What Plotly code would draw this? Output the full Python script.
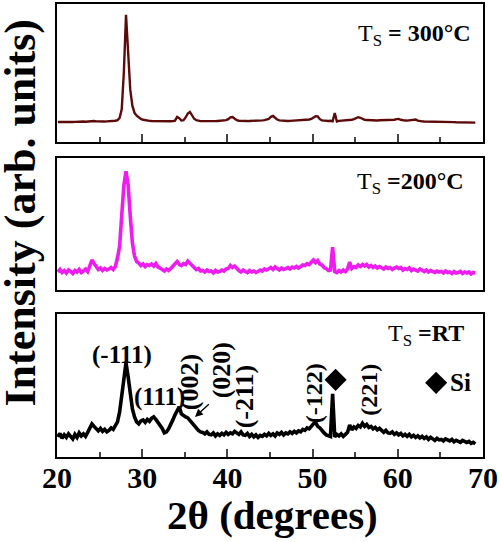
import plotly.graph_objects as go

# scan angles (2theta, step 0.25 deg), one row per degree
two_theta = [
    20.1, 20.35, 20.6, 20.85, 21.1, 21.35, 21.6, 21.85, 22.1, 22.35, 22.6, 22.85,
    23.1, 23.35, 23.6, 23.85, 24.1, 24.35, 24.6, 24.85, 25.1, 25.35, 25.6, 25.85,
    26.1, 26.35, 26.6, 26.85, 27.1, 27.35, 27.6, 27.85, 28.1, 28.35, 28.6, 28.85,
    29.1, 29.35, 29.6, 29.85, 30.1, 30.35, 30.6, 30.85, 31.1, 31.35, 31.6, 31.85,
    32.1, 32.35, 32.6, 32.85, 33.1, 33.35, 33.6, 33.85, 34.1, 34.35, 34.6, 34.85,
    35.1, 35.35, 35.6, 35.85, 36.1, 36.35, 36.6, 36.85, 37.1, 37.35, 37.6, 37.85,
    38.1, 38.35, 38.6, 38.85, 39.1, 39.35, 39.6, 39.85, 40.1, 40.35, 40.6, 40.85,
    41.1, 41.35, 41.6, 41.85, 42.1, 42.35, 42.6, 42.85, 43.1, 43.35, 43.6, 43.85,
    44.1, 44.35, 44.6, 44.85, 45.1, 45.35, 45.6, 45.85, 46.1, 46.35, 46.6, 46.85,
    47.1, 47.35, 47.6, 47.85, 48.1, 48.35, 48.6, 48.85, 49.1, 49.35, 49.6, 49.85,
    50.1, 50.35, 50.6, 50.85, 51.1, 51.35, 51.6, 51.85, 52.1, 52.35, 52.6, 52.85,
    53.1, 53.35, 53.6, 53.85, 54.1, 54.35, 54.6, 54.85, 55.1, 55.35, 55.6, 55.85,
    56.1, 56.35, 56.6, 56.85, 57.1, 57.35, 57.6, 57.85, 58.1, 58.35, 58.6, 58.85,
    59.1, 59.35, 59.6, 59.85, 60.1, 60.35, 60.6, 60.85, 61.1, 61.35, 61.6, 61.85,
    62.1, 62.35, 62.6, 62.85, 63.1, 63.35, 63.6, 63.85, 64.1, 64.35, 64.6, 64.85,
    65.1, 65.35, 65.6, 65.85, 66.1, 66.35, 66.6, 66.85, 67.1, 67.35, 67.6, 67.85,
    68.1, 68.35, 68.6, 68.85, 69.1,
]

# Ts = 300 C
int_300 = [
    200, 202, 199, 201, 200, 198, 202, 200, 201, 203, 200, 202,
    204, 202, 205, 207, 212, 210, 206, 204, 203, 205, 204, 206,
    207, 206, 209, 212, 218, 240, 330, 700, 1270, 900, 520, 360,
    290, 262, 243, 230, 222, 217, 214, 211, 210, 209, 208, 207,
    206, 206, 205, 205, 206, 207, 209, 214, 250, 238, 215, 218,
    245, 285, 300, 262, 232, 218, 211, 209, 208, 207, 207, 208,
    208, 209, 208, 210, 211, 212, 214, 218, 228, 246, 250, 232,
    218, 212, 210, 209, 208, 209, 210, 210, 211, 212, 212, 214,
    216, 218, 222, 230, 252, 260, 242, 224, 216, 213, 211, 210,
    210, 211, 212, 213, 214, 215, 216, 218, 220, 222, 225, 230,
    240, 258, 255, 228, 216, 212, 211, 210, 212, 206, 290, 205,
    211, 212, 213, 215, 217, 219, 222, 228, 238, 248, 242, 228,
    222, 219, 217, 215, 216, 218, 215, 217, 218, 216, 215, 216,
    217, 219, 222, 228, 230, 222, 216, 214, 214, 216, 220, 226,
    224, 214, 208, 206, 205, 205, 204, 204, 203, 203, 202, 202,
    201, 200, 200, 199, 199, 198, 198, 197, 197, 196, 196, 195,
    195, 194, 194, 193, 193,
]

# Ts = 200 C
int_200 = [
    180, 205, 175, 195, 170, 200, 185, 165, 195, 180, 205, 175,
    190, 210, 185, 240, 300, 265, 235, 205, 220, 195, 215, 200,
    210, 225, 205, 235, 320, 440, 750, 1050, 1190, 1050, 740, 470,
    340, 285, 270, 245, 260, 235, 255, 245, 260, 240, 265, 230,
    220, 205, 190, 210, 195, 215, 235, 255, 285, 255, 245, 265,
    255, 290, 265, 240, 225, 205, 215, 190, 195, 180, 200, 185,
    190, 170, 195, 180, 185, 200, 190, 210, 215, 245, 225, 240,
    210, 195, 180, 200, 185, 175, 195, 180, 190, 175, 185, 200,
    190, 210, 200, 215, 225, 205, 230, 215, 200, 220, 205, 215,
    225, 210, 230, 220, 235, 220, 240, 250, 245, 265, 255, 280,
    300, 275, 295, 260, 250, 225, 215, 195, 200, 430, 185, 175,
    195, 180, 200, 185, 210, 280, 215, 235, 225, 250, 235, 255,
    240, 255, 230, 245, 225, 240, 220, 235, 225, 210, 230, 215,
    225, 205, 220, 230, 215, 225, 200, 215, 205, 220, 195, 210,
    200, 190, 210, 195, 185, 200, 180, 195, 185, 175, 190, 180,
    185, 170, 190, 175, 180, 165, 185, 170, 175, 185, 165, 180,
    170, 180, 160, 175, 170,
]

# Ts = RT
int_rt = [
    200, 235, 185, 220, 195, 230, 205, 180, 225, 195, 240, 210,
    230, 205, 245, 290, 330, 305, 280, 260, 285, 255, 275, 250,
    265, 290, 275, 310, 350, 450, 620, 790, 940, 800, 620, 480,
    400, 350, 330, 360, 370, 345, 375, 355, 385, 400, 375, 345,
    330, 285, 240, 250, 280, 320, 370, 420, 460, 500, 430, 410,
    400, 390, 365, 340, 310, 280, 265, 250, 245, 230, 250, 225,
    220, 240, 210, 230, 215, 235, 220, 245, 225, 240, 230, 255,
    240, 225, 250, 220, 215, 235, 205, 225, 200, 220, 195, 215,
    205, 225, 210, 235, 215, 230, 210, 240, 225, 245, 220, 240,
    230, 250, 235, 255, 240, 260, 250, 275, 265, 290, 280, 310,
    330, 345, 305, 290, 260, 240, 220, 215, 205, 630, 200, 225,
    210, 230, 205, 225, 245, 320, 270, 300, 285, 315, 300, 335,
    305, 325, 295, 305, 280, 295, 270, 285, 260, 245, 265, 240,
    235, 250, 225, 240, 220, 235, 210, 225, 205, 225, 200, 215,
    195, 210, 190, 205, 185, 200, 175, 195, 180, 165, 185, 170,
    175, 160, 180, 165, 160, 175, 150, 165, 155, 145, 165, 150,
    145, 155, 135, 145, 130,
]

panel_labels = ["T<sub>S</sub> <b>= 300°C</b>", "T<sub>S</sub> <b>=200°C</b>",
                "T<sub>S</sub> <b>=RT</b>"]
hkl_names = ["(-111)", "(111)", "(002)", "(020)", "(-211)", "(-122)", "(221)"]
si_name = "Si"

FONT = "Liberation Serif"

fig = go.Figure()
fig.add_trace(go.Scatter(x=two_theta, y=int_300, mode="lines",
                         line=dict(color="#5c0a0a", width=2.4), xaxis="x", yaxis="y"))
fig.add_trace(go.Scatter(x=two_theta, y=int_200, mode="lines",
                         line=dict(color="#ee1cee", width=3.6), xaxis="x2", yaxis="y2"))
fig.add_trace(go.Scatter(x=two_theta, y=int_rt, mode="lines",
                         line=dict(color="black", width=3.6), xaxis="x3", yaxis="y3"))
# Si reflection marker and its key
fig.add_trace(go.Scatter(x=[52.7, 64.5], y=[770, 740], mode="markers",
                         marker=dict(symbol="diamond", size=17, color="black"),
                         xaxis="x3", yaxis="y3"))

box = dict(showline=True, mirror=True, linecolor="black", linewidth=1.6,
           showgrid=False, zeroline=False, automargin=False)
xdom = [0.114, 0.966]

fig.update_layout(
    width=500, height=542, showlegend=False,
    margin=dict(l=0, r=0, t=0, b=0, autoexpand=False),
    paper_bgcolor="white", plot_bgcolor="white",
    font=dict(family=FONT, color="black"),
    xaxis=dict(box, domain=xdom, range=[20, 70], anchor="y", ticks="inside",
               ticklen=8, tickwidth=1.5, dtick=10, showticklabels=False,
               minor=dict(ticks="inside", ticklen=5, tickwidth=1.5, dtick=5)),
    yaxis=dict(box, domain=[0.738, 0.993], range=[0, 1380], anchor="x",
               showticklabels=False),
    xaxis2=dict(box, domain=xdom, range=[20, 70], anchor="y2", showticklabels=False),
    yaxis2=dict(box, domain=[0.465, 0.708], range=[0, 1320], anchor="x2",
                showticklabels=False),
    xaxis3=dict(box, domain=xdom, range=[20, 70], anchor="y3", ticks="inside",
                ticklen=8, tickwidth=1.5, dtick=10, ticklabelstandoff=-7,
                tickfont=dict(family=FONT, size=30, color="black", weight="bold"),
                minor=dict(ticks="inside", ticklen=5, tickwidth=1.5, dtick=5)),
    yaxis3=dict(box, domain=[0.157, 0.421], range=[0, 1430], anchor="x3",
                showticklabels=False),
)

# panel labels
for lbl, xr, yr, xv, yv in zip(panel_labels, ["x", "x2", "x3"], ["y", "y2", "y3"],
                               [62.0, 61.5, 63.3], [1070, 1070, 1220]):
    fig.add_annotation(x=xv, y=yv, xref=xr, yref=yr, text=lbl, showarrow=False,
                       font=dict(family=FONT, size=24, color="black"))

# (hkl) labels: position (2theta, intensity), angle, size
hkl_place = [(27.65, 1020, 0, 25), (32.0, 600, 0, 25), (35.65, 750, -90, 26),
             (39.3, 870, -90, 26), (42.0, 610, -90, 26), (50.1, 640, -90, 24),
             (56.6, 670, -90, 24)]
for txt, (xv, yv, ang, sz) in zip(hkl_names, hkl_place):
    fig.add_annotation(x=xv, y=yv, xref="x3", yref="y3", text="<b>" + txt + "</b>",
                       textangle=ang, showarrow=False,
                       font=dict(family=FONT, size=sz, color="black"))

fig.add_annotation(x=67.3, y=740, xref="x3", yref="y3",
                   text="<b>" + si_name + "</b>", showarrow=False,
                   font=dict(family=FONT, size=25, color="black"))

# arrow pointing to the (020) shoulder
fig.add_annotation(x=36.2, y=400, ax=38.0, ay=540, xref="x3", yref="y3",
                   axref="x3", ayref="y3", text="", showarrow=True,
                   arrowhead=2, arrowsize=1.2, arrowwidth=1.3, arrowcolor="black")

# axis titles
fig.add_annotation(x=0.041, y=0.607, xref="paper", yref="paper",
                   xanchor="center", yanchor="middle",
                   text="<b>Intensity (arb. units)</b>", textangle=-90, showarrow=False,
                   font=dict(family=FONT, size=44, color="black"))
fig.add_annotation(x=0.544, y=0.05, xref="paper", yref="paper",
                   xanchor="center", yanchor="middle",
                   text="<b>2θ (degrees)</b>", showarrow=False,
                   font=dict(family=FONT, size=41, color="black"))

fig.write_html("out.html", config={"displayModeBar": False},
               post_script="document.body.style.margin='0';")
